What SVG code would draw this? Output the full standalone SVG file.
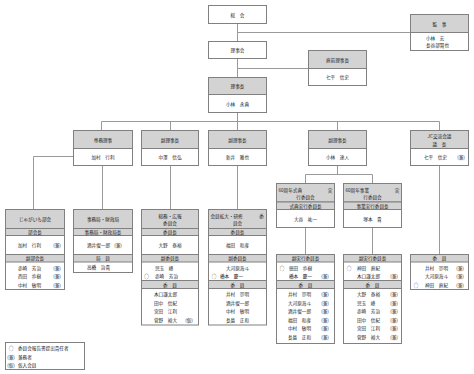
<svg xmlns="http://www.w3.org/2000/svg" width="474" height="374" viewBox="0 0 474 374">
<style>
.bx{fill:#fff;stroke:#808080;stroke-width:1}
.hd{fill:#d3d3d3;stroke:#808080;stroke-width:1}
.ln{fill:none;stroke:#9a9a9a;stroke-width:1}
text{font-family:"Noto Sans CJK JP","Noto Sans CJK SC",sans-serif;font-size:4.6px;fill:#1a1a1a;dominant-baseline:central;font-variant-ligatures:none;font-feature-settings:"liga" 0,"clig" 0,"dlig" 0,"calt" 0}
.c{text-anchor:middle}
</style>
<rect width="474" height="374" fill="#fff"/>
<g id="connectors" class="ln">
<path d="M237.5 23.5V130.5M237.5 32.5H410.5M237.5 68.5H308.5M101.5 121.5H439.5M101.5 121.5V130.5M170.5 121.5V130.5M337.5 121.5V130.5M439.5 121.5V130.5"/>
<path d="M73.5 156.5H33.5V209.5M102.5 165.5V209.5M170.5 165.5V209.5M237.5 165.5V209.5"/>
<path d="M337.5 165.5V174.5M305.5 174.5H372.5M305.5 174.5V183.5M372.5 174.5V183.5"/>
<path d="M305.5 227.5V254.5M372.5 227.5V254.5M439.5 165.5V254.5"/>
</g>
<g id="soukai"><rect class="bx" x="208.5" y="5.5" width="58" height="18"/><text class="c" x="237.5" y="14.5">総　会</text></g>
<g id="rijikai"><rect class="bx" x="208.5" y="41.5" width="58" height="17"/><text class="c" x="237.5" y="50">理事会</text></g>
<g id="rijicho"><rect class="bx" x="208.5" y="77.5" width="58" height="35"/><rect class="hd" x="208.5" y="77.5" width="58" height="17"/><text class="c" x="237.5" y="86">理事長</text><text class="c" x="237.5" y="103.5">小林　永典</text></g>
<g id="kanji"><rect class="bx" x="410.5" y="14.5" width="58" height="36"/><rect class="hd" x="410.5" y="14.5" width="58" height="18"/><text class="c" x="439.5" y="23.5">監　事</text><text x="426" y="37.5">小林　宏</text><text x="426" y="44.5">長谷部賢也</text></g>
<g id="chokuzen"><rect class="bx" x="308.5" y="50.5" width="58" height="35"/><rect class="hd" x="308.5" y="50.5" width="58" height="18"/><text class="c" x="337.5" y="59.5">直前理事長</text><text class="c" x="337.5" y="77">七平　信史</text></g>
<g id="senmu"><rect class="bx" x="73.5" y="130.5" width="59" height="35"/><rect class="hd" x="73.5" y="130.5" width="59" height="18"/><text class="c" x="103" y="139.5">専務理事</text><text class="c" x="103" y="157">加村　行利</text></g>
<g id="fuku1"><rect class="bx" x="141.5" y="130.5" width="57" height="35"/><rect class="hd" x="141.5" y="130.5" width="57" height="18"/><text class="c" x="170" y="139.5">副理事長</text><text class="c" x="170" y="157">中澤　信弘</text></g>
<g id="fuku2"><rect class="bx" x="208.5" y="130.5" width="58" height="35"/><rect class="hd" x="208.5" y="130.5" width="58" height="18"/><text class="c" x="237.5" y="139.5">副理事長</text><text class="c" x="237.5" y="157">新井　雅也</text></g>
<g id="fuku3"><rect class="bx" x="308.5" y="130.5" width="58" height="35"/><rect class="hd" x="308.5" y="130.5" width="58" height="18"/><text class="c" x="337.5" y="139.5">副理事長</text><text class="c" x="337.5" y="157">小林　達人</text></g>
<g id="jc"><rect class="bx" x="410.5" y="130.5" width="58" height="35"/><rect class="hd" x="410.5" y="130.5" width="58" height="18"/><text class="c" x="439.5" y="135.5">JC交流会議</text><text class="c" x="439.5" y="143.5">議　長</text><text x="424" y="157">七平　信史</text><text class="c" x="461" y="157">(兼)</text></g>
<g id="jagaimo"><rect class="bx" x="5.5" y="209.5" width="59" height="80"/><rect class="hd" x="5.5" y="209.5" width="59" height="19"/><rect class="hd" x="5.5" y="228.5" width="59" height="7"/><rect class="hd" x="5.5" y="254.5" width="59" height="7.5"/>
<text class="c" x="35" y="219">じゃがいも部会</text><text class="c" x="35" y="232">部会長</text><text x="18" y="245">加村　行利</text><text class="c" x="57" y="245">(兼)</text><text class="c" x="35" y="258.2">副部会長</text>
<text x="18" y="267.5">赤崎　芳治</text><text class="c" x="57" y="267.5">(兼)</text><text x="18" y="276">西田　歩樹</text><text class="c" x="57" y="276">(兼)</text><text x="18" y="284.5">中村　敏明</text><text class="c" x="57" y="284.5">(兼)</text></g>
<g id="jimukyoku"><rect class="bx" x="73.5" y="209.5" width="59" height="63"/><rect class="hd" x="73.5" y="209.5" width="59" height="19"/><rect class="hd" x="73.5" y="228.5" width="59" height="7"/><rect class="hd" x="73.5" y="254.5" width="59" height="7.5"/>
<text class="c" x="103" y="219">事務局・財政局</text><text class="c" x="103" y="232">事務局・財政局長</text><text x="87" y="245">酒井俊一郎</text><text class="c" x="118" y="245">(兼)</text><text class="c" x="103" y="258.2">局　員</text><text x="87" y="267">高橋　治貴</text></g>
<g id="soumu"><rect class="bx" x="141.5" y="209.5" width="57" height="115.5"/><rect class="hd" x="141.5" y="209.5" width="57" height="19"/><rect class="hd" x="141.5" y="228.5" width="57" height="7"/><rect class="hd" x="141.5" y="254.5" width="57" height="7.5"/><rect class="hd" x="141.5" y="280.5" width="57" height="8"/>
<text class="c" x="170" y="215.5">総務・広報</text><text class="c" x="170" y="222.5">委員会</text><text class="c" x="170" y="232">委員長</text><text class="c" x="170" y="245">大野　泰裕</text><text class="c" x="170" y="258.2">副委員長</text>
<text x="155" y="267.5">児玉　峰</text><text class="c" x="146.5" y="276">○</text><text x="155" y="276">赤崎　芳治</text><text class="c" x="170" y="284.5">委　員</text>
<text x="154" y="294">木口謙太郎</text><text x="154" y="302.5">田中　信紀</text><text x="154" y="311">宮田　江利</text><text x="154" y="319.5">菅野　裕大</text><text class="c" x="189" y="319.5">(仮)</text></g>
<g id="kaiin"><rect class="bx" x="208.5" y="209.5" width="58" height="115.5"/><rect class="hd" x="208.5" y="209.5" width="58" height="19"/><rect class="hd" x="208.5" y="228.5" width="58" height="7"/><rect class="hd" x="208.5" y="254.5" width="58" height="7.5"/><rect class="hd" x="208.5" y="280.5" width="58" height="8"/>
<text x="210.5" y="215.5">会員拡大・研修</text><text class="c" x="261.5" y="215.5">委</text><text class="c" x="237.5" y="222.5">員会</text><text class="c" x="237.5" y="232">委員長</text><text class="c" x="237.5" y="245">福田　和彦</text><text class="c" x="237.5" y="258.2">副委員長</text>
<text class="c" x="237.5" y="267.5">大河原海斗</text><text class="c" x="214" y="276">○</text><text x="220" y="276">橋本　慶一</text><text class="c" x="237.5" y="284.5">委　員</text>
<text class="c" x="237.5" y="294">井村　崇明</text><text class="c" x="237.5" y="302.5">酒井俊一郎</text><text class="c" x="237.5" y="311">中村　敏明</text><text class="c" x="237.5" y="319.5">長島　正和</text></g>
<g id="shikiten"><rect class="bx" x="276.5" y="183.5" width="58" height="44"/><rect class="hd" x="276.5" y="183.5" width="58" height="18.5"/><rect class="hd" x="276.5" y="202" width="58" height="7.5"/>
<text x="278.5" y="189.5">60周年式典</text><text class="c" x="330" y="189.5">実</text><text class="c" x="305.5" y="196.5">行委員会</text><text class="c" x="305.5" y="205.7">式典実行委員長</text><text class="c" x="305.5" y="218.5">大谷　祐一</text></g>
<g id="jigyou"><rect class="bx" x="343.5" y="183.5" width="58" height="44"/><rect class="hd" x="343.5" y="183.5" width="58" height="18.5"/><rect class="hd" x="343.5" y="202" width="58" height="7.5"/>
<text x="345.5" y="189.5">60周年事業</text><text class="c" x="397" y="189.5">実</text><text class="c" x="372.5" y="196.5">行委員会</text><text class="c" x="372.5" y="205.7">事業実行委員長</text><text class="c" x="372.5" y="218.5">塚本　貴</text></g>
<g id="shikiten-fuku"><rect class="bx" x="276.5" y="254.5" width="58" height="89"/><rect class="hd" x="276.5" y="254.5" width="58" height="7.5"/><rect class="hd" x="276.5" y="280.5" width="58" height="8"/>
<text class="c" x="305.5" y="258.2">副実行委員長</text><text class="c" x="282" y="267.5">○</text><text x="289" y="267.5">徳田　歩樹</text><text x="289" y="276">橋本　慶一</text><text class="c" x="325" y="276">(兼)</text><text class="c" x="305.5" y="284.5">委　員</text>
<text x="288" y="294">井村　崇明</text><text class="c" x="325" y="294">(兼)</text><text x="288" y="302.6">大河原海斗</text><text class="c" x="325" y="302.6">(兼)</text><text x="288" y="311.2">酒井俊一郎</text><text class="c" x="325" y="311.2">(兼)</text><text x="288" y="319.8">福田　和彦</text><text class="c" x="325" y="319.8">(兼)</text><text x="288" y="328.4">中村　敏明</text><text class="c" x="325" y="328.4">(兼)</text><text x="288" y="337">長島　正和</text><text class="c" x="325" y="337">(兼)</text></g>
<g id="jigyou-fuku"><rect class="bx" x="343.5" y="254.5" width="58" height="89"/><rect class="hd" x="343.5" y="254.5" width="58" height="7.5"/><rect class="hd" x="343.5" y="280.5" width="58" height="8"/>
<text class="c" x="372.5" y="258.2">副実行委員長</text><text class="c" x="349" y="267.5">○</text><text x="357" y="267.5">神田　直紀</text><text x="357" y="276">木口謙太郎</text><text class="c" x="394" y="276">(兼)</text><text class="c" x="372.5" y="284.5">委　員</text>
<text x="357" y="294">大野　泰裕</text><text class="c" x="394" y="294">(兼)</text><text x="357" y="302.6">児玉　峰</text><text class="c" x="394" y="302.6">(兼)</text><text x="357" y="311.2">赤崎　芳治</text><text class="c" x="394" y="311.2">(兼)</text><text x="357" y="319.8">田中　信紀</text><text class="c" x="394" y="319.8">(兼)</text><text x="357" y="328.4">宮田　江利</text><text class="c" x="394" y="328.4">(兼)</text><text x="357" y="337">菅野　裕大</text><text class="c" x="394" y="337">(兼)</text></g>
<g id="jc-iin"><rect class="bx" x="410.5" y="254.5" width="58" height="35"/><rect class="hd" x="410.5" y="254.5" width="58" height="7.5"/>
<text class="c" x="439.5" y="258.2">委　員</text><text x="425" y="267.5">井村　崇明</text><text class="c" x="460" y="267.5">(兼)</text><text x="425" y="276">大河原海斗</text><text class="c" x="460" y="276">(兼)</text><text class="c" x="416" y="284.5">○</text><text x="425" y="284.5">神田　直紀</text><text class="c" x="460" y="284.5">(兼)</text></g>
<g id="legend"><rect class="bx" x="5.5" y="342.5" width="79" height="27"/>
<text class="c" x="11" y="348">○</text><text x="18" y="348">委員会報告書提出責任者</text><text class="c" x="11" y="356.5">(兼)</text><text x="18" y="356.5">兼務者</text><text class="c" x="11" y="365">(仮)</text><text x="18" y="365">仮入会員</text></g>
</svg>
